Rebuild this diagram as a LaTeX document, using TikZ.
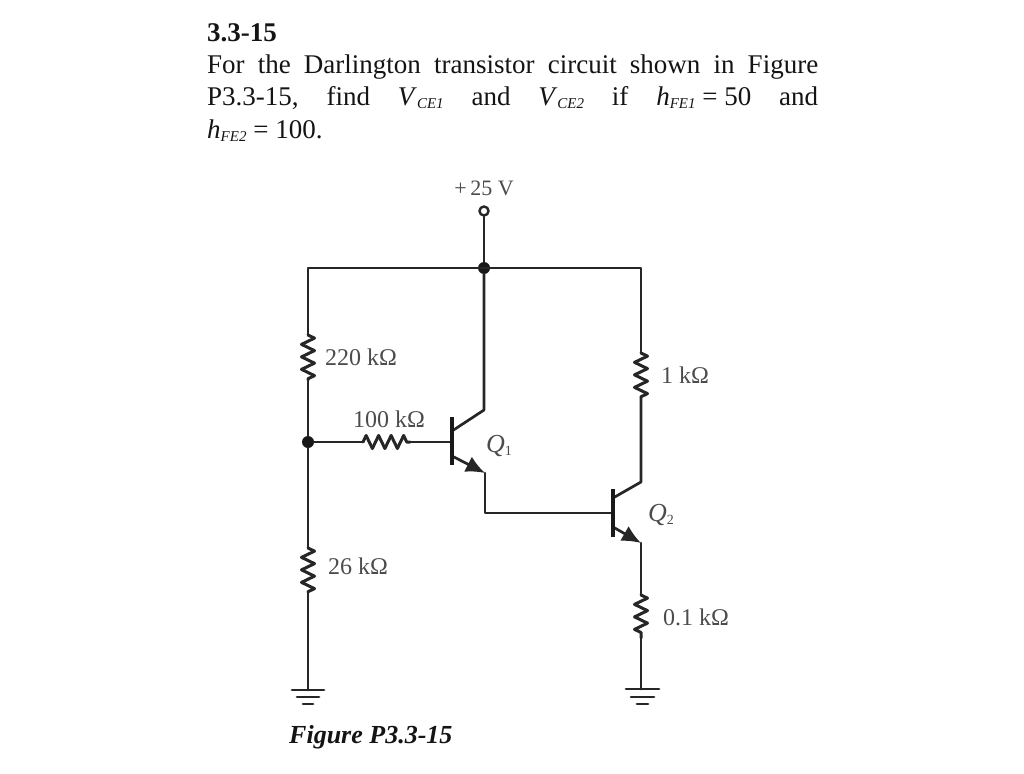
\documentclass[tikz,border=0pt]{standalone}
\usepackage{fontspec}
\setmainfont{Liberation Serif}
\usetikzlibrary{decorations.pathmorphing,arrows.meta}
\newcommand{\lowsub}[1]{\raisebox{-3pt}{\fontsize{15}{15}\selectfont\textit{#1}}}
\tikzset{
  x=1pt,y=-1pt,
  wire/.style={draw=black!85,line width=2.7pt,line cap=round,line join=round},
  resist/.style={wire,line width=3pt,decorate,decoration={zigzag,segment length=12.5pt,amplitude=6.5pt}},
  bar/.style={draw=black!90,line width=3.5pt},
  dot/.style={circle,fill=black!90,inner sep=0pt,minimum size=12pt},
  term/.style={circle,draw=black!85,fill=white,line width=2.4pt,inner sep=0pt,minimum size=9pt},
  lab/.style={font=\fontsize{24}{24}\selectfont,text=black!70,inner sep=0pt,anchor=base},
  para/.style={font=\fontsize{27}{27}\selectfont,text=black!92,inner sep=0pt,anchor=base west},
  emit/.style={wire,-{Latex[length=19pt,width=17pt]}},
}
\begin{document}
\begin{tikzpicture}
\useasboundingbox (0,0) rectangle (1024,773);
\fill[white] (0,0) rectangle (1024,773);
% text
\node[para,font=\fontsize{27}{27}\selectfont\bfseries] (title) at (207,42) {3.3-15};
\node[para] (l1) at (207,74) {\hbox to 611pt{For\hfil the\hfil Darlington\hfil transistor\hfil circuit\hfil shown\hfil in\hfil Figure}};
\node[para] (l2) at (207,106) {\hbox to 611pt{P3.3-15,\hfil find\hfil \textit{V}\lowsub{CE1}\hfil and\hfil \textit{V}\lowsub{CE2}\hfil if\hfil \textit{h}\lowsub{FE1} = 50\hfil and}};
\node[para] (l3) at (207,138) {\textit{h}\lowsub{FE2} = 100.};
\node[para,font=\fontsize{26}{26}\selectfont\bfseries\itshape] (fig) at (289,743) {Figure P3.3-15};
% coordinates
\coordinate (topL) at (308,268);
\coordinate (topR) at (641,268);
\coordinate (r1a) at (308,335);
\coordinate (r1b) at (308,380);
\coordinate (r2a) at (308,548);
\coordinate (r2b) at (308,592);
\coordinate (g1) at (308,690);
\coordinate (r3a) at (363,442);
\coordinate (r3b) at (410,442);
\coordinate (q1b) at (452,442);
\coordinate (q1ct) at (452,431);
\coordinate (q1c) at (484,410);
\coordinate (q1et) at (452,456);
\coordinate (q1e) at (485,473);
\coordinate (bend) at (485,513);
\coordinate (q2b) at (613,513);
\coordinate (q2ct) at (613,498);
\coordinate (q2c) at (641,482);
\coordinate (q2et) at (613,527);
\coordinate (q2e) at (641,543);
\coordinate (r4a) at (641,353);
\coordinate (r4b) at (641,397);
\coordinate (r5a) at (641,595);
\coordinate (r5b) at (641,638);
\coordinate (g2) at (641,689);
\node[term] (vcc) at (484,211) {};
\node[dot] (jt) at (484,268) {};
\node[dot] (jb) at (308,442) {};
% wires
\draw[wire] (vcc) -- (jt);
\draw[wire] (r1a) -- (topL) -- (topR) -- (r4a);
\draw[wire] (jt) -- (q1c) -- (q1ct);
\draw[wire] (r1b) -- (jb) -- (r2a);
\draw[wire] (r2b) -- (g1);
\draw[wire] (jb) -- (r3a);
\draw[wire] (r3b) -- (q1b);
\draw[wire] (q1e) -- (bend) -- (q2b);
\draw[wire] (r4b) -- (q2c) -- (q2ct);
\draw[wire] (q2e) -- (r5a);
\draw[wire] (r5b) -- (g2);
\draw[emit] (q1et) -- (q1e);
\draw[emit] (q2et) -- (q2e);
% resistors
\draw[resist] (r1a) -- (r1b);
\draw[resist] (r2a) -- (r2b);
\draw[resist] (r3a) -- (r3b);
\draw[resist] (r4a) -- (r4b);
\draw[resist] (r5a) -- (r5b);
% transistor bars
\draw[bar] (452,417) -- (452,465);
\draw[bar] (613,489) -- (613,537);
% grounds
\draw[wire] ([xshift=-16pt]g1) -- ([xshift=16pt]g1);
\draw[wire] ([xshift=-11pt,yshift=-7pt]g1) -- ([xshift=11pt,yshift=-7pt]g1);
\draw[wire] ([xshift=-5pt,yshift=-14pt]g1) -- ([xshift=5pt,yshift=-14pt]g1);
\draw[wire] ([xshift=-15pt]g2) -- ([xshift=18pt]g2);
\draw[wire] ([xshift=-10pt,yshift=-8pt]g2) -- ([xshift=13pt,yshift=-8pt]g2);
\draw[wire] ([xshift=-4pt,yshift=-15pt]g2) -- ([xshift=7pt,yshift=-15pt]g2);
% labels
\node[lab] (v) at (484,195) {\fontsize{22}{22}\selectfont +\,25 V};
\node[lab] (a) at (361,365) {220 kΩ};
\node[lab] (b) at (389,427) {100 kΩ};
\node[lab] (c) at (685,383) {1 kΩ};
\node[lab] (d) at (358,574) {26 kΩ};
\node[lab] (e) at (696,625) {0.1 kΩ};
\node[lab,font=\fontsize{26}{26}\selectfont\itshape] (q1) at (499,452) {\textit{Q}\raisebox{-3pt}{\fontsize{14}{14}\selectfont\upshape 1}};
\node[lab,font=\fontsize{26}{26}\selectfont\itshape] (q2) at (661,521) {\textit{Q}\raisebox{-3pt}{\fontsize{14}{14}\selectfont\upshape 2}};
\end{tikzpicture}
\end{document}
